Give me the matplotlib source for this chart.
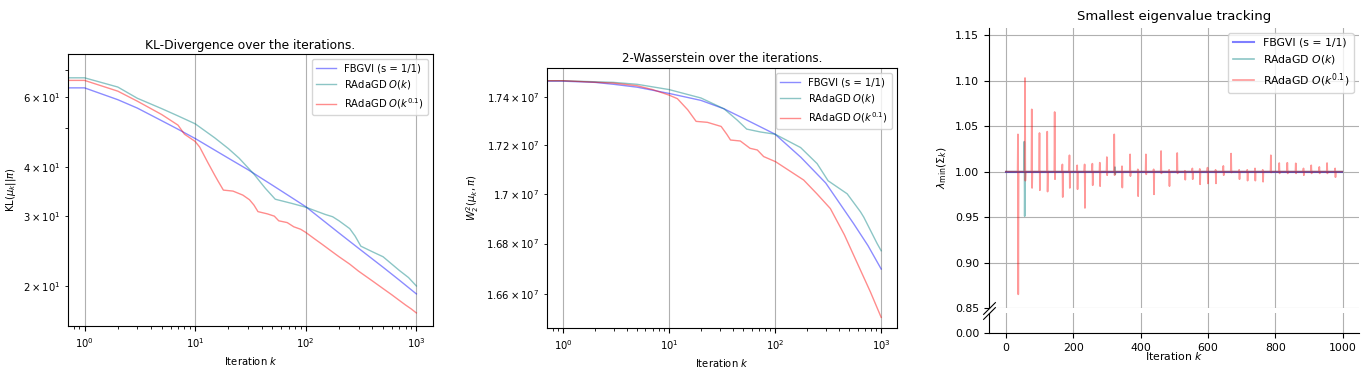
import matplotlib
matplotlib.use("Agg")

import matplotlib.pyplot as plt
from matplotlib.ticker import FormatStrFormatter

# ---- KL divergence ----
kl_k_fb = [0, 1, 2, 3, 5, 7, 10, 20, 30, 50, 70, 100, 200, 300, 500, 700, 1000]
kl_fb = [63.2, 63.2, 59.0, 56.2, 52.2, 49.7, 47.1, 42.0, 39.3, 35.9, 33.8,
         31.7, 27.2, 24.9, 22.3, 20.7, 19.1]

kl_k_lin = [0, 1, 2, 3, 5, 7, 10, 15, 20, 25, 34, 43, 53, 75, 100, 150,
            175, 200, 250, 280, 315, 400, 500, 700, 850, 1000]
kl_lin = [67.0, 67.0, 63.5, 59.5, 56.0, 53.7, 51.3, 47.3, 44.4, 42.0, 38.3,
          35.3, 33.1, 32.3, 31.6, 30.3, 29.9, 29.2, 27.9, 26.7, 25.2, 24.4,
          23.7, 21.9, 21.0, 20.0]

kl_k_pow = [0, 1, 2, 3, 5, 7, 8, 10, 11, 13, 15, 16, 18, 22, 27, 31, 34, 37,
            45, 52, 57, 68, 78, 90, 100, 120, 140, 170, 200, 250, 300, 400,
            500, 600, 700, 800, 900, 1000]
kl_pow = [66.0, 66.0, 62.0, 58.5, 54.1, 50.9, 48.3, 46.3, 44.8, 41.0, 38.1,
          36.9, 34.9, 34.7, 33.9, 33.0, 32.0, 30.8, 30.4, 30.0, 29.2, 28.9,
          28.2, 27.8, 27.3, 26.3, 25.5, 24.5, 23.7, 22.7, 21.8, 20.6, 19.7,
          19.0, 18.4, 17.9, 17.5, 17.1]

# ---- 2-Wasserstein (x 1e7) ----
w_k_fb = [0, 1, 2, 3, 5, 10, 20, 33, 50, 100, 175, 300, 550, 750, 1000]
w_fb = [1.7465, 1.7465, 1.7460, 1.7452, 1.7440, 1.7414, 1.7385, 1.7350,
        1.7311, 1.7245, 1.7150, 1.7045, 1.6880, 1.6792, 1.6698]

w_k_lin = [0, 1, 3, 5, 10, 20, 33, 44, 54, 73, 100, 174, 249, 316, 478, 638,
           686, 916, 1000]
w_lin = [1.7467, 1.7467, 1.7460, 1.7452, 1.7430, 1.7395, 1.7350, 1.7303,
         1.7266, 1.7254, 1.7245, 1.7190, 1.7124, 1.7054, 1.7001, 1.6928,
         1.6906, 1.6800, 1.6771]

w_k_pow = [0, 1, 3, 5, 7, 10, 12, 15, 18, 23, 31, 35, 38, 47, 58, 68, 78, 101,
           186, 249, 332, 450, 552, 793, 1000]
w_pow = [1.7467, 1.7467, 1.7457, 1.7446, 1.7430, 1.7407, 1.7392, 1.7346,
         1.7298, 1.7294, 1.7277, 1.7245, 1.7221, 1.7217, 1.7187, 1.7180,
         1.7153, 1.7132, 1.7057, 1.7000, 1.6941, 1.6835, 1.6752, 1.6606,
         1.6506]

# ---- smallest eigenvalue: flat at 1 with spikes (iteration, high, low) ----
eig_start, eig_end, eig_base = 0, 999, 1.0
spike_k_pow = [35, 56, 76, 99, 122, 144, 167, 188, 211, 233, 256, 278, 299,
               321, 344, 368, 391, 415, 438, 460, 484, 508, 531, 553, 575,
               598, 622, 645, 668, 692, 716, 739, 762, 786, 811, 835, 860,
               883, 906, 930, 953, 977]
spike_hi_pow = [1.041, 1.103, 1.0685, 1.0425, 1.044, 1.0656, 1.008, 1.018,
                1.007, 1.008, 1.0088, 1.0099, 1.016, 1.041, 1.006, 1.019,
                1.0026, 1.019, 1.0026, 1.0227, 1.002, 1.0205, 1.001, 1.0036,
                1.003, 1.0044, 1.002, 1.0063, 1.0199, 1.002, 1.002, 1.0036,
                1.002, 1.018, 1.0095, 1.0098, 1.0092, 1.0036, 1.007, 1.0052,
                1.0095, 1.0036]
spike_lo_pow = [0.865, 0.990, 0.982, 0.9795, 0.978, 0.9916, 0.972, 0.982,
                0.9806, 0.960, 0.985, 0.984, 0.996, 0.996, 0.9824, 0.995,
                0.973, 0.997, 0.975, 0.998, 0.984, 0.998, 0.991, 0.9916,
                0.986, 0.987, 0.987, 0.996, 0.999, 0.9916, 0.990, 0.990,
                0.9888, 0.999, 0.998, 0.998, 0.998, 0.996, 0.998, 0.998,
                0.998, 0.9938]
spike_k_lin = [54, 323]
spike_hi_lin = [1.033, 1.005]
spike_lo_lin = [0.951, 0.997]

labels = ["FBGVI (s = 1/1)", r"RAdaGD $O(k)$", r"RAdaGD $O(k^{0.1})$"]
colors = ["blue", "teal", "red"]


def spiky(ks, his, los):
    # flat baseline, one up/down excursion per listed iteration
    xs, ys = [eig_start], [eig_base]
    for k, hi, lo in zip(ks, his, los):
        xs += [k, k + 1, k + 2, k + 3]
        ys += [eig_base, hi, lo, eig_base]
    xs.append(eig_end)
    ys.append(eig_base)
    return xs, ys


fig = plt.figure(figsize=(13.7, 3.73), dpi=100)
fs = 7.2
lw = 1.0

# panel 1: KL
ax1 = fig.add_axes([0.0496, 0.126, 0.2664, 0.729])
ax1.plot(kl_k_fb, kl_fb, color=colors[0], alpha=0.45, lw=lw, label=labels[0])
ax1.plot(kl_k_lin, kl_lin, color=colors[1], alpha=0.45, lw=lw, label=labels[1])
ax1.plot(kl_k_pow, kl_pow, color=colors[2], alpha=0.45, lw=lw, label=labels[2])
ax1.set_xscale("log")
ax1.set_yscale("log")
ax1.set_ylim(15.85, 76.9)
ax1.grid(True)
ax1.set_title("KL-Divergence over the iterations.", fontsize=8.8, pad=4)
ax1.set_xlabel(r"Iteration $k$", fontsize=fs)
ax1.set_ylabel(r"$\mathrm{KL}(\mu_k||\pi)$", fontsize=fs)
ax1.tick_params(which="both", labelsize=fs)
ax1.legend(loc="upper right", fontsize=fs)

# panel 2: Wasserstein
ax2 = fig.add_axes([0.3993, 0.1206, 0.2555, 0.697])
ax2.plot(w_k_fb, [v * 1e7 for v in w_fb], color=colors[0], alpha=0.45, lw=lw,
         label=labels[0])
ax2.plot(w_k_lin, [v * 1e7 for v in w_lin], color=colors[1], alpha=0.45, lw=lw,
         label=labels[1])
ax2.plot(w_k_pow, [v * 1e7 for v in w_pow], color=colors[2], alpha=0.45, lw=lw,
         label=labels[2])
ax2.set_xscale("log")
ax2.set_yscale("log")
ax2.set_ylim(1.6464e7, 1.7520e7)
ax2.grid(True)
ax2.set_title("2-Wasserstein over the iterations.", fontsize=8.5, pad=4)
ax2.set_xlabel(r"Iteration $k$", fontsize=fs)
ax2.set_ylabel(r"$W_2^2(\mu_k, \pi)$", fontsize=fs)
ax2.tick_params(which="both", labelsize=fs)
ax2.legend(loc="upper right", fontsize=fs)

# panel 3: smallest eigenvalue, broken y axis
fs3 = 7.8
ax3 = fig.add_axes([0.7219, 0.1743, 0.2701, 0.7507])
ax4 = fig.add_axes([0.7219, 0.1072, 0.2701, 0.0536], sharex=ax3)
fb_x, fb_y = [eig_start, eig_end], [eig_base, eig_base]
lin_x, lin_y = spiky(spike_k_lin, spike_hi_lin, spike_lo_lin)
pow_x, pow_y = spiky(spike_k_pow, spike_hi_pow, spike_lo_pow)
for ax in (ax3, ax4):
    ax.plot(fb_x, fb_y, color=colors[0], alpha=0.5, lw=1.5, label=labels[0])
    ax.plot(lin_x, lin_y, color=colors[1], alpha=0.45, lw=1.2, label=labels[1])
    ax.plot(pow_x, pow_y, color=colors[2], alpha=0.4, lw=1.2, label=labels[2])
    ax.grid(True)
    ax.spines["top"].set_visible(False)
    ax.spines["right"].set_visible(False)
    ax.tick_params(labelsize=fs3)
ax3.set_ylim(0.85, 1.158)
ax3.set_yticks([0.85, 0.90, 0.95, 1.00, 1.05, 1.10, 1.15])
ax3.spines["bottom"].set_visible(False)
ax3.tick_params(bottom=False, labelbottom=False)
ax4.set_ylim(0, 0.05)
ax4.set_yticks([0.0])
ax4.yaxis.set_major_formatter(FormatStrFormatter("%.2f"))
ax4.set_xticks([0, 200, 400, 600, 800, 1000])
ax4.set_xlabel(r"Iteration $k$", fontsize=fs3, labelpad=-2)
ax3.set_ylabel(r"$\lambda_{\min}(\Sigma_k)$", fontsize=fs3)
ax3.set_title("Smallest eigenvalue tracking", fontsize=9.5, pad=6)
ax3.legend(loc="upper right", fontsize=fs3)

# break marks on the left spine
d = 1.0
kw = dict(marker=[(-1, -d), (1, d)], markersize=9, linestyle="none",
          color="k", mec="k", mew=0.8, clip_on=False)
ax3.plot([0], [0], transform=ax3.transAxes, **kw)
ax4.plot([0], [1], transform=ax4.transAxes, **kw)

fig.savefig("out.png", dpi=100)
plt.close(fig)
